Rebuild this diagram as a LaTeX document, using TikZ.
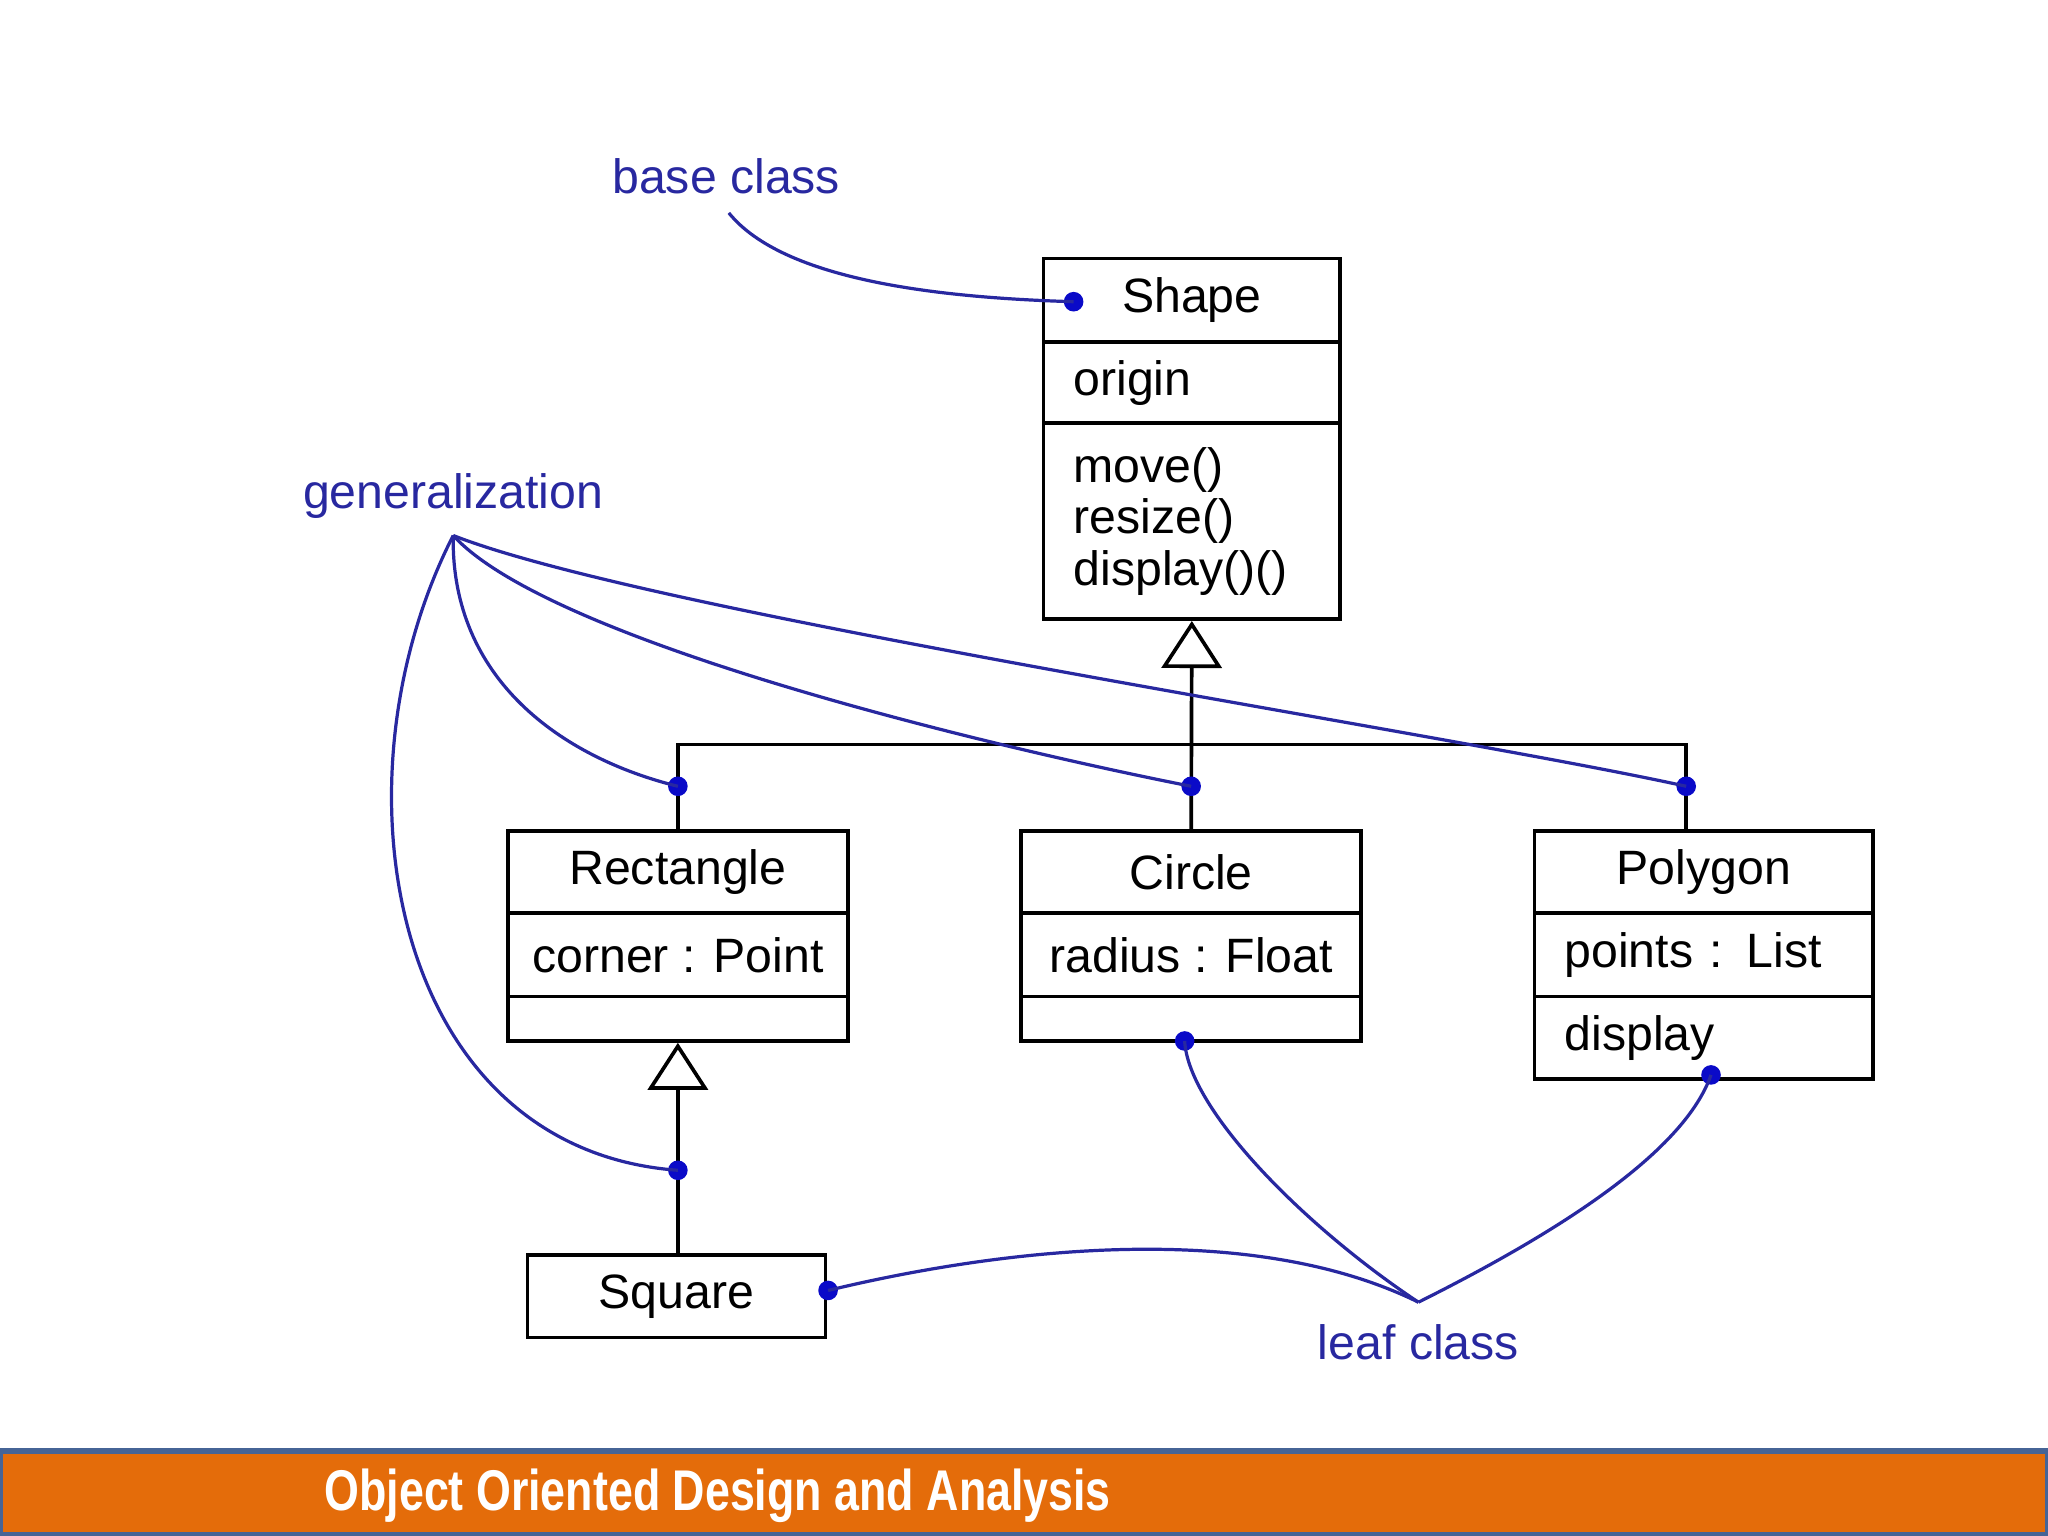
\documentclass[tikz,border=0pt]{standalone}
\usepackage{fontspec}
\setmainfont{Liberation Sans}
\usetikzlibrary{arrows.meta}
\definecolor{notecol}{RGB}{40,40,160}
\definecolor{dotcol}{RGB}{10,10,200}
\definecolor{barfill}{RGB}{228,108,10}
\definecolor{barline}{RGB}{70,100,150}
\tikzset{
  cell/.style 2 args={draw, line width=0.8pt, inner sep=0pt, minimum width=#1, minimum height=#2},
  lcell/.style 2 args={cell={#1}{#2}, inner xsep=0.23cm, text width=#1-0.46cm, align=left},
  note/.style={notecol, line width=0.7pt},
  dot/.style={circle, fill=dotcol, inner sep=0pt, minimum size=0.15cm},
  gen/.style={-{Triangle[open,length=0.36cm,width=0.46cm]}, line width=0.8pt},
}
\begin{document}
\begin{tikzpicture}[x=0.01cm, y=-0.01cm, font=\fontsize{10.5}{11.2}\selectfont]
  \useasboundingbox (0,0) rectangle (1568,1176);

  % classes
  \node (shape)     at (912.5,230) [cell={2.27cm}{0.64cm}] {Shape};
  \node (shapeattr) at (912.5,293) [lcell={2.27cm}{0.62cm}] {origin};
  \node (shapeops)  at (912.5,399) [lcell={2.27cm}{1.50cm}] {move()\\resize()\\display()()};

  \node (rect)      at (519,667.5) [cell={2.60cm}{0.63cm}] {Rectangle};
  \node (rectattr)  at (519,731)   [cell={2.60cm}{0.64cm}] {corner : Point};
  \node (rectops)   at (519,780)   [cell={2.60cm}{0.34cm}] {};

  \node (circ)      at (912,667.5) [cell={2.60cm}{0.63cm}] {Circle};
  \node (circattr)  at (912,731)   [cell={2.60cm}{0.64cm}] {radius : Float};
  \node (circops)   at (912,780)   [cell={2.60cm}{0.34cm}] {};

  \node (poly)      at (1304.5,667.5) [cell={2.59cm}{0.63cm}] {Polygon};
  \node (polyattr)  at (1304.5,731)   [lcell={2.59cm}{0.64cm}] {points : List};
  \node (polyops)   at (1304.5,794.5) [lcell={2.59cm}{0.63cm}] {display};

  \node (square)    at (518,992.5) [cell={2.28cm}{0.63cm}] {Square};

  % generalizations
  \coordinate (join) at (912,570);
  \draw[gen] (circ.north) -- (shapeops.south);
  \draw[line width=0.8pt] (rect.north) |- (join) -| (1291,636);
  \draw[gen] (square.north -| rect.north) -- (rectops.south);

  % annotations
  \node (baselbl) at (556,135) [notecol] {base class};
  \node (genlbl)  at (347,380) [notecol] {generalization};
  \node (leaflbl) at (1086,1028) [notecol] {leaf class};
  \coordinate (genhub)  at (347,410);
  \coordinate (leafhub) at (1086,997);

  \node (dshape)  at (822,231)  [dot] {};
  \node (drect)   at (519,602)  [dot] {};
  \node (dcirc)   at (912,602)  [dot] {};
  \node (dpoly)   at (1291,602) [dot] {};
  \node (dsquare) at (519,896)  [dot] {};
  \node (dcircl)  at (907,797)  [dot] {};
  \node (dpolyl)  at (1310,823) [dot] {};
  \node (dsqrl)   at (634,988)  [dot] {};

  \draw[note] (558,163) .. controls (600,215) and (720,228) .. (dshape.center);
  \draw[note] (genhub) .. controls (345,520) and (430,580) .. (drect.center);
  \draw[note] (genhub) .. controls (420,490) and (750,570) .. (dcirc.center);
  \draw[note] (genhub) .. controls (500,470) and (1100,560) .. (dpoly.center);
  \draw[note] (genhub) .. controls (250,600) and (300,880) .. (dsquare.center);
  \draw[note] (leafhub) .. controls (1000,940) and (910,850) .. (dcircl.center);
  \draw[note] (leafhub) .. controls (1200,940) and (1290,880) .. (dpolyl.center);
  \draw[note] (leafhub) .. controls (950,930) and (750,960) .. (dsqrl.center);

  % footer bar
  \node (bar) at (784,1143) [draw=barline, line width=1.2pt, fill=barfill, inner sep=0pt,
    minimum width=15.66cm, minimum height=0.64cm] {};
  \node (title) at (236,1145) [anchor=west, white, font=\fontsize{12.5}{14}\selectfont\bfseries]
    {\scalebox{0.78}[1]{Object Oriented Design and Analysis}};
\end{tikzpicture}
\end{document}
